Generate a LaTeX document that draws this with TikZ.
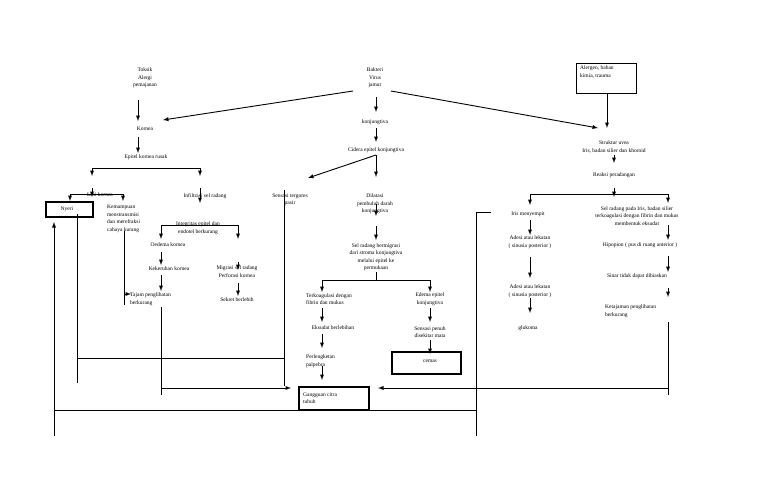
\documentclass[tikz,border=0pt]{standalone}
\usepackage{fontspec}
\setmainfont{Liberation Serif}
\usetikzlibrary{shapes,arrows,positioning,calc}
\tikzset{
	lbl/.style={inner sep=0pt, align=center, font=\fontsize{5.5}{7.5}\selectfont},
	lbll/.style={lbl, align=left, anchor=west},
	box/.style={draw, line width=1.4pt, minimum width=#1, minimum height=21pt, inner sep=0pt},
	arr/.style={->, >=latex, line width=0.9pt},
	ln/.style={-, line width=0.9pt}
}
\begin{document}
\begin{tikzpicture}[x=1pt,y=-1pt]
	\useasboundingbox (0,0) rectangle (768,503);
	%Causes%
	%===========================================================
	\node[lbl] (toksik) at (145,78) {Toksik\\Alergi\\pemajanan};
	\node[lbl] (bakteri) at (375,78) {Bakteri\\Virus\\jamur};
	\draw[line width=0.8pt] (576,63) rectangle (636,93);
	\node[lbll] (alergen) at (580,72) {Alergen, bahan\\kimia, trauma};
	%Kornea branch%
	%===========================================================
	\node[lbl] (kornea) at (145,129) {Kornea};
	\node[lbl] (epitel) at (146,157) {Epitel kornea rusak};
	\draw[arr] (138,100) -- (138,121);
	\draw[arr] (138,137) -- (138,153);
	\draw[arr] (353,91) -- (163,120);
	\draw[ln] (92,168) -- (200,168);
	\draw[arr] (92,168) -- (92,176);
	\draw[arr] (200,168) -- (200,176);
	\node[lbl] (lesi) at (100,195) {Lesi kornea};
	\draw[arr] (92,188) -- (92,197);
	\draw[ln] (70,194) -- (123,194);
	\draw[arr] (70,194) -- (70,201);
	\draw[arr] (123,194) -- (123,201);
	\draw[line width=1.4pt] (46,202) rectangle (93,217);
	\node[lbl] (nyeri) at (67,209) {Nyeri};
	\node[lbll] (kemampuan) at (107,219) {Kemampuan\\menstransmisi\\dan merefraksi\\cahaya kurang};
	\node[lbl] (infiltrasi) at (205,196) {Infiltrasi sel radang};
	\draw[arr] (200,188) -- (200,203);
	\node[lbl] (integritas) at (198,228) {Integritas epitel dan\\endotel berkurang};
	\draw[ln] (161,225) -- (238,225);
	\draw[arr] (161,225) -- (161,239);
	\draw[arr] (238,225) -- (238,239);
	\node[lbl] (oedema) at (168,245) {Oedema kornea};
	\node[lbl] (keruh) at (169,269) {Kekeruhan kornea};
	\node[lbll] (tajam) at (130,299) {Tajam penglihatan\\berkurang};
	\draw[arr] (161,252) -- (161,265);
	\draw[arr] (161,275) -- (161,291);
	\draw[ln] (124,231) -- (124,305);
	\draw[arr] (124,294) -- (131,294);
	\node[lbl] (migrasi) at (237,268) {Migrasi sel radang};
	\draw[arr] (238,262) -- (238,270);
	\node[lbl] (perforasi) at (237,276) {Perforasi kornea};
	\draw[arr] (238,283) -- (238,296);
	\node[lbl] (sekret) at (237,300) {Sekret berlebih};
	%Konjungtiva branch%
	%===========================================================
	\node[lbl] (konj) at (375,122) {konjungtiva};
	\node[lbl] (cidera) at (376,150) {Cidera epitel konjungtiva};
	\draw[arr] (376,97) -- (376,112);
	\draw[arr] (376,128) -- (376,142);
	\draw[arr] (376,155) -- (376,177);
	\draw[arr] (376,155) -- (308,178);
	\node[lbl] (sensasi) at (290,200) {Sensasi tergores\\pasir};
	\node[lbl] (dilatasi) at (375,204) {Dilatasi\\pembuluh darah\\konjungtiva};
	\draw[arr] (376,204) -- (376,216);
	\draw[arr] (376,226) -- (376,240);
	\node[lbl] (selradang) at (376,257) {Sel radang bermigrasi\\dari stroma konjungtiva\\melalui epitel ke\\permukaan};
	\draw[ln] (322,280) -- (430,280);
	\draw[ln] (376,272) -- (376,280);
	\draw[arr] (322,280) -- (322,292);
	\draw[arr] (430,280) -- (430,292);
	\node[lbll] (terkoag) at (306,299) {Terkoagulasi dengan\\fibrin dan mukus};
	\node[lbl] (eksudat) at (333,328) {Eksudat berlebihan};
	\node[lbll] (perleng) at (306,361) {Perlengketan\\palpebra};
	\draw[arr] (322,308) -- (322,322);
	\draw[arr] (322,334) -- (322,348);
	\draw[arr] (322,366) -- (322,380);
	\node[lbl] (edema) at (430,299) {Edema epitel\\konjungtiva};
	\node[lbl] (penuh) at (430,332) {Sensasi penuh\\disekitar mata};
	\draw[arr] (430,308) -- (430,322);
	\draw[arr] (430,340) -- (430,354);
	\draw[line width=1.4pt] (392,352) rectangle (461,374);
	\node[lbl] (cemas) at (430,361) {cemas};
	\draw[line width=1.4pt] (299,387) rectangle (369,410);
	\node[lbll] (gangguan) at (303,398) {Gangguan citra\\tubuh};
	%Uvea branch%
	%===========================================================
	\draw[arr] (391,91) -- (598,128);
	\draw[arr] (607,93) -- (607,128);
	\node[lbl] (uvea) at (614,147) {Struktur uvea\\Iris, badan silier dan khoroid};
	\draw[arr] (614,155) -- (614,163);
	\node[lbl] (reaksi) at (614,175) {Reaksi peradangan};
	\draw[ln] (530,194) -- (668,194);
	\draw[arr] (614,188) -- (614,197);
	\draw[arr] (530,194) -- (530,205);
	\draw[arr] (668,194) -- (668,203);
	\node[lbl] (iris) at (528,214) {Iris menyempit};
	\node[lbl] (adesi1) at (530,242) {Adesi atau lekatan\\( sinusia posterior )};
	\node[lbl] (adesi2) at (530,291) {Adesi atau lekatan\\( sinusia posterior )};
	\node[lbl] (glukoma) at (528,328) {glukoma};
	\draw[arr] (530,220) -- (530,235);
	\draw[arr] (530,257) -- (530,278);
	\draw[arr] (530,298) -- (530,313);
	\node[lbl] (selIris) at (637,216) {Sel radang pada Iris, badan silier\\terkoagulasi dengan fibrin dan mukus\\membentuk eksudat};
	\node[lbl] (hipopion) at (640,245) {Hipopion ( pus di ruang anterior )};
	\node[lbl] (sinar) at (637,276) {Sinar tidak dapat dibiaskan};
	\node[lbll] (ketajaman) at (605,311) {Ketajaman penglihatan\\berkurang};
	\draw[arr] (668,225) -- (668,240);
	\draw[arr] (668,256) -- (668,272);
	\draw[arr] (668,288) -- (668,297);
	%Feedback lines%
	%===========================================================
	\draw[ln] (77,214) -- (77,383);
	\draw[ln] (77,358) -- (284,358);
	\draw[ln] (284,190) -- (284,386);
	\draw[ln] (161,307) -- (161,395);
	\draw[arr] (161,388) -- (291,388);
	\draw[arr] (54,436) -- (54,222);
	\draw[ln] (54,410) -- (299,410);
	\draw[ln] (369,410) -- (476,410);
	\draw[ln] (476,212) -- (476,436);
	\draw[ln] (476,212) -- (491,212);
	\draw[ln] (668,322) -- (668,395);
	\draw[arr] (668,388) -- (378,388);
\end{tikzpicture}
\end{document}
